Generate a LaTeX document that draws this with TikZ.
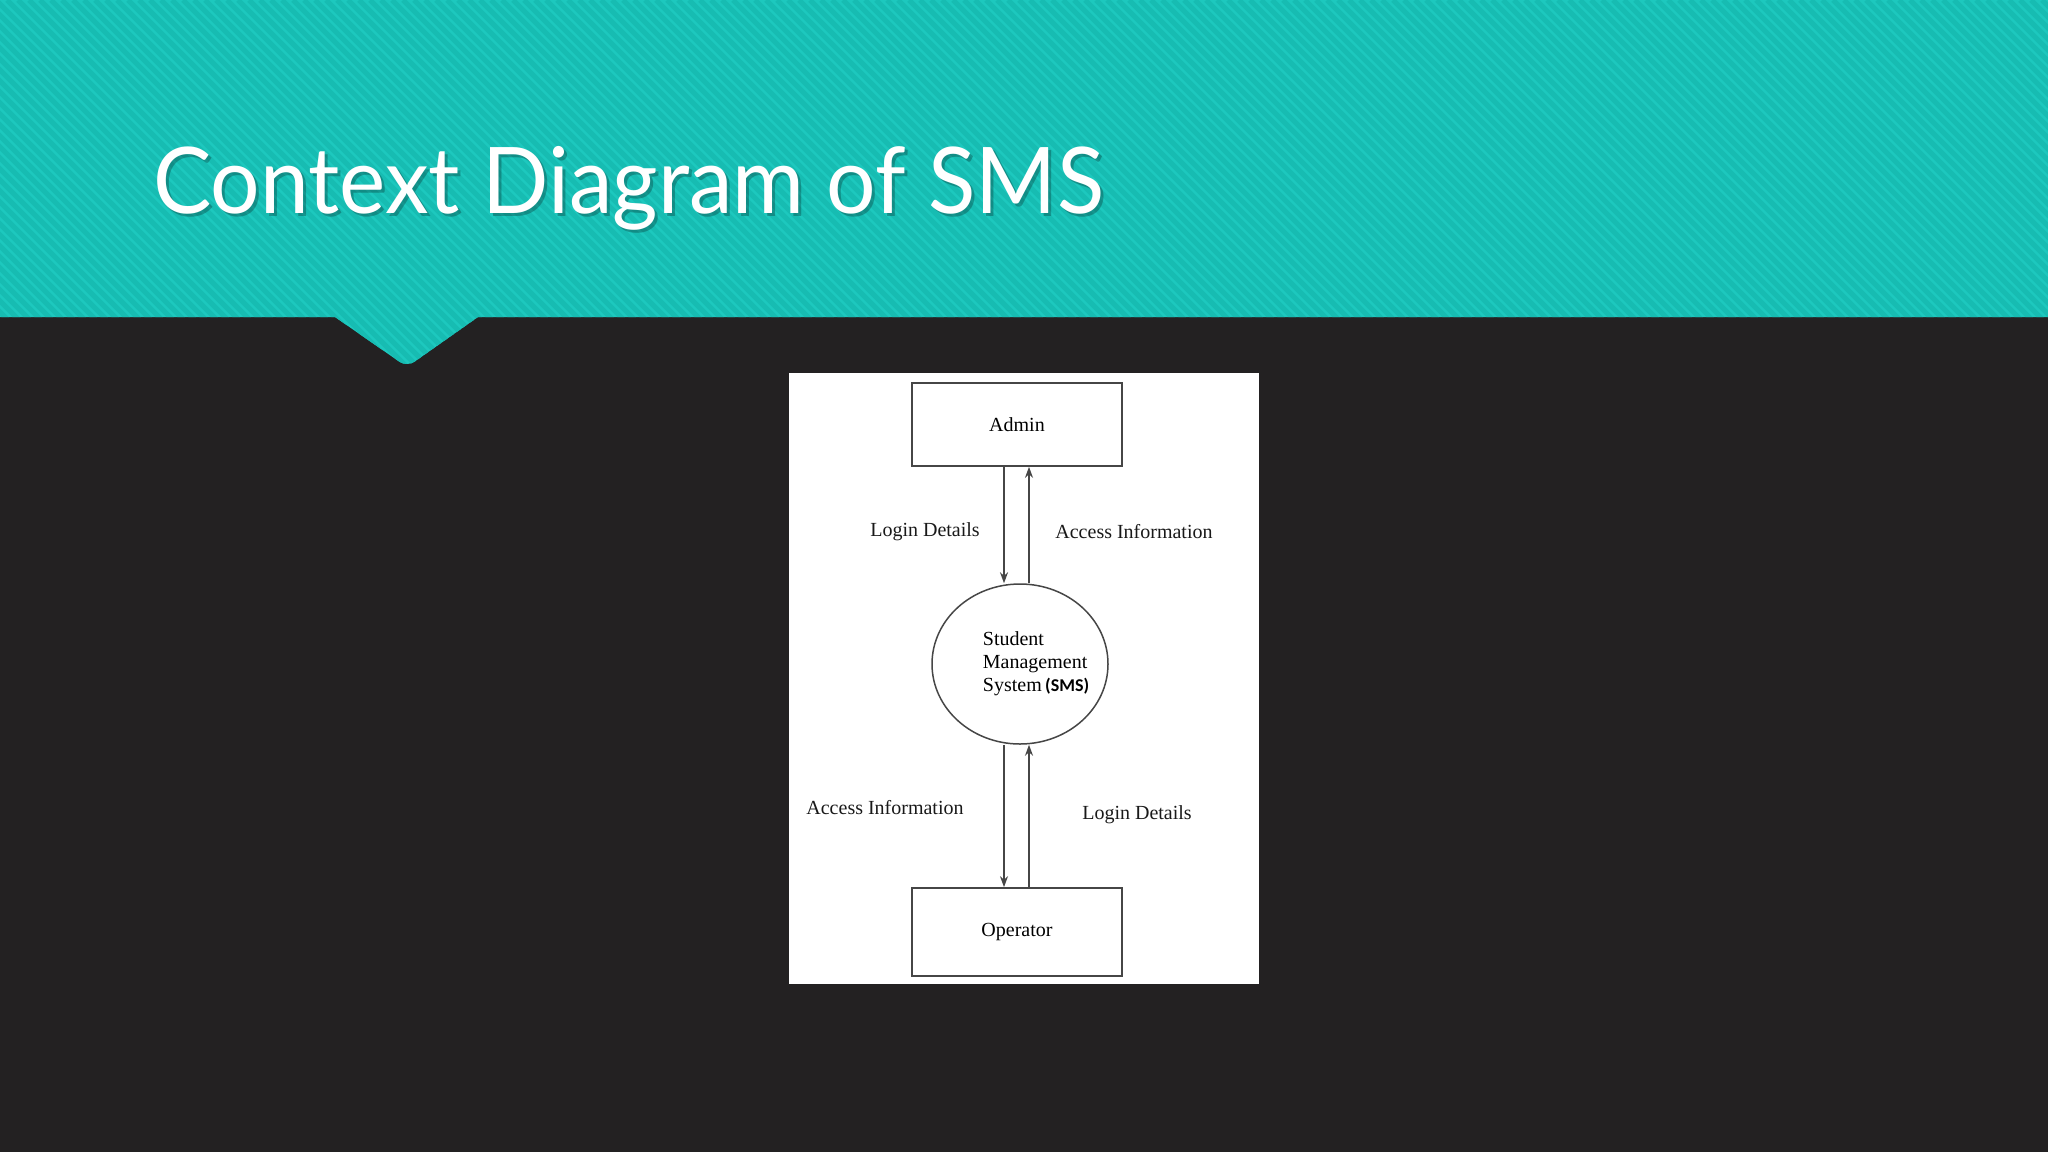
\documentclass[tikz,border=0pt]{standalone}
\usepackage{fontspec}
\setmainfont{Liberation Serif}
\newfontfamily\titlefont{Lato}
\newfontfamily\smsfont{Carlito}
\usepackage{tikz}
\usetikzlibrary{arrows.meta,shapes.geometric}

\definecolor{slidebg}{RGB}{35,33,34}
\definecolor{bandteal}{RGB}{29,200,190}
\definecolor{stripeteal}{RGB}{23,188,178}
\definecolor{linegray}{RGB}{70,70,70}

\begin{document}
\begin{tikzpicture}[x=1pt,y=-1pt,>={Stealth[length=11pt,width=8pt]},
  entity/.style={draw=linegray,line width=1.7pt,fill=white,minimum width=210pt,
    font=\fontsize{20}{23}\selectfont},
  process/.style={ellipse,draw=linegray,line width=1.5pt,fill=white,
    minimum width=176pt,minimum height=160pt},
  proctext/.style={align=left,inner sep=0pt,font=\fontsize{20}{23}\selectfont},
  flow/.style={->,draw=linegray,line width=1.6pt},
  flowlabel/.style={inner sep=0pt,text=black!90,font=\fontsize{20}{23}\selectfont},
  titletext/.style={inner sep=0pt,text=white,font=\titlefont\fontsize{92}{110}\selectfont},
  stripe/.style={stripeteal,line width=5pt}]

\useasboundingbox (0,0) rectangle (2048,1152);
\fill[slidebg] (0,0) rectangle (2048,1152);
\fill[white] (789,373) rectangle (1259,984);

% header band with notch
\begin{scope}
  \clip (0,0) -- (2048,0) -- (2048,317) -- (478,317) [rounded corners=9pt]-- (407,367)
    [sharp corners]-- (335,317) -- (0,317) -- cycle;
  \fill[bandteal] (0,0) rectangle (2048,380);
  \foreach \s in {-400,-389,...,2060}
    \draw[stripe] (\s,0) -- (\s+400,400);
\end{scope}

\node[titletext,text=black,opacity=.25,anchor=base west] (titleshadow) at (156,216) {\scalebox{0.95}[1]{Context Diagram of SMS}};
\node[titletext,anchor=base west] (title) at (153,213) {\scalebox{0.95}[1]{Context Diagram of SMS}};

% context diagram
\node[entity,minimum height=83pt] (admin) at (1017,424.5) {Admin};
\node[process] (sms) at (1020,664) {};
\node[proctext] (smstext) at (1036,664) {Student\\Management\\System\,{\smsfont\bfseries\fontsize{18}{23}\selectfont(SMS)}};
\node[entity,minimum height=88pt] (operator) at (1017,932) {Operator};

\coordinate (lx) at (1004,0);
\coordinate (rx) at (1029,0);

\draw[flow] (admin.south -| lx) -- (sms.north -| lx);
\draw[flow] (sms.north -| rx) -- (admin.south -| rx);
\draw[flow] (sms.south -| lx) -- (operator.north -| lx);
\draw[flow] (operator.north -| rx) -- (sms.south -| rx);

\node[flowlabel] (adminlogin) at (925,532) {Login Details};
\node[flowlabel] (adminaccess) at (1134,532) {Access Information};
\node[flowlabel] (opaccess) at (885,808) {Access Information};
\node[flowlabel] (oplogin) at (1137,815) {Login Details};

\end{tikzpicture}
\end{document}
